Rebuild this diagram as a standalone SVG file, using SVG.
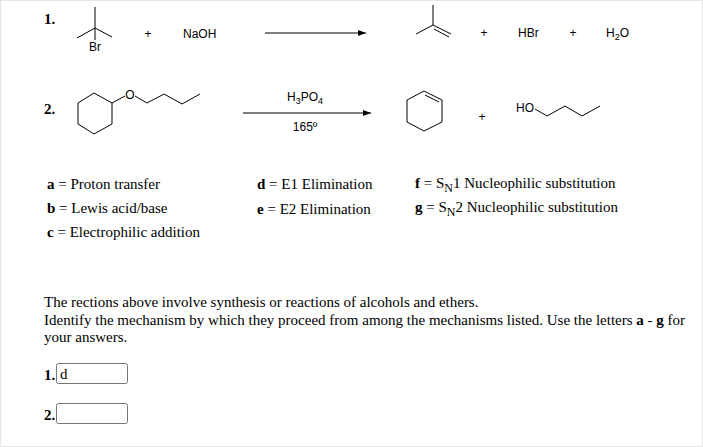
<svg xmlns="http://www.w3.org/2000/svg" width="703" height="447" viewBox="0 0 703 447">
<style>
.b{stroke:#000;stroke-width:1;fill:none}
.s{font-family:"Liberation Sans",Arial,sans-serif;font-size:12px;fill:#000}
.t{font-family:"Liberation Serif","Times New Roman",serif;font-size:15px;fill:#000}
.bx{fill:#fff;stroke:#767676;stroke-width:1}
</style>
<defs><marker id="ah" markerWidth="8" markerHeight="6" refX="8" refY="3" orient="auto"><path d="M0,0 L8,3 L0,6 Z" fill="#000"/></marker></defs>
<rect x="0.5" y="0.5" width="702" height="446" fill="#fff" stroke="#e6e6e6"/>
<g id="r1">
<text class="t" x="44" y="24" font-weight="bold">1.</text>
<path class="b" d="M95,7 L95,40 M77,38 L95,28 L112,37"/>
<text class="s" x="95" y="51" text-anchor="middle">Br</text>
<text class="s" x="148" y="38" text-anchor="middle">+</text>
<text class="s" x="183" y="38">NaOH</text>
<path class="b" d="M433,5 L433,25 L416,34 M433,25 L451,34 M434,29 L449,37"/>
<text class="s" x="484" y="37" text-anchor="middle">+</text>
<text class="s" x="518" y="37">HBr</text>
<text class="s" x="573" y="37" text-anchor="middle">+</text>
<text class="s" x="606" y="37">H<tspan font-size="9" dy="3">2</tspan><tspan dy="-3">O</tspan></text>
</g>
<g id="r2">
<text class="t" x="44" y="114" font-weight="bold">2.</text>
<path class="b" d="M78,103 L94,93 L112,103 L112,124 L94,134 L78,124 Z M112,103 L125,96 M135,96 L147,103 L164,94 L182,104 L200,94"/>
<text class="s" x="130" y="99" text-anchor="middle">O</text>
<path class="b" d="M407,100 L424,91 L442,100 L442,122 L424,131 L407,122 Z M425,95 L439,102"/>
<text class="s" x="482" y="121" text-anchor="middle">+</text>
<text class="s" x="516" y="112">HO</text>
<path class="b" d="M535,109 L547,116 L565,106 L582,116 L600,106"/>
<text class="s" x="305" y="101" text-anchor="middle">H<tspan font-size="9" dy="3">3</tspan><tspan dy="-3">PO</tspan><tspan font-size="9" dy="3">4</tspan></text>
<text class="s" x="305" y="131" text-anchor="middle">165º</text>
</g>
<g id="connectors">
<line class="b" x1="265" y1="33" x2="366" y2="33" marker-end="url(#ah)"/>
<line class="b" x1="243" y1="113" x2="371" y2="113" marker-end="url(#ah)"/>
</g>
<g id="legend">
<text class="t" x="47" y="189"><tspan font-weight="bold">a</tspan> = Proton transfer</text>
<text class="t" x="47" y="213"><tspan font-weight="bold">b</tspan> = Lewis acid/base</text>
<text class="t" x="47" y="237"><tspan font-weight="bold">c</tspan> = Electrophilic addition</text>
<text class="t" x="257" y="189"><tspan font-weight="bold">d</tspan> = E1 Elimination</text>
<text class="t" x="257" y="214"><tspan font-weight="bold">e</tspan> = E2 Elimination</text>
<text class="t" x="415" y="188"><tspan font-weight="bold">f</tspan> = S<tspan font-size="12" dy="4">N</tspan><tspan dy="-4">1 Nucleophilic substitution</tspan></text>
<text class="t" x="415" y="212"><tspan font-weight="bold">g</tspan> = S<tspan font-size="12" dy="4">N</tspan><tspan dy="-4">2 Nucleophilic substitution</tspan></text>
</g>
<g id="question">
<text class="t" x="44" y="307">The rections above involve synthesis or reactions of alcohols and ethers.</text>
<text class="t" x="44" y="325">Identify the mechanism by which they proceed from among the mechanisms listed. Use the letters <tspan font-weight="bold">a</tspan> - <tspan font-weight="bold">g</tspan> for</text>
<text class="t" x="44" y="342">your answers.</text>
<text class="t" x="44" y="380" font-weight="bold">1.</text>
<rect class="bx" x="56.5" y="363.5" width="71" height="20" rx="2"/>
<text class="t" x="60" y="379">d</text>
<text class="t" x="44" y="420" font-weight="bold">2.</text>
<rect class="bx" x="56.5" y="403.5" width="71" height="20" rx="2"/>
</g>
</svg>
